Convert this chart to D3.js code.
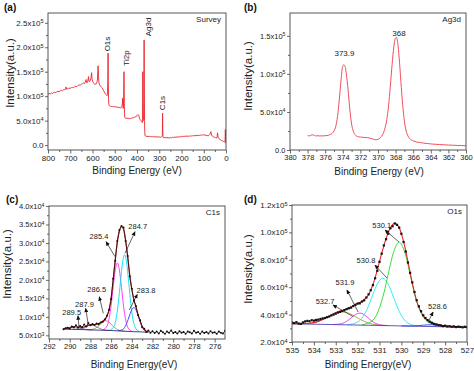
<!DOCTYPE html>
<html><head><meta charset="utf-8">
<script src="https://cdn.jsdelivr.net/npm/d3@7"></script>
<style>body{margin:0;background:#fff}svg{display:block}text{font-family:Arial,"Liberation Sans",sans-serif}</style>
</head><body><script>
// ---------------- DATA ----------------
// (a) survey spectrum: [binding energy eV, intensity]
const surveyData = [[800,104000],[795,105500],[790,104500],[785,106500],[780,105500],[775,107500],[770,108000],[765,107000],[760,109500],[755,110000],[750,109000],[745,111000],[740,112000],[735,111000],[730,113000],[725,113500],[721,114000],[719,119000],[717,114500],[712,115000],[706,116500],[700,116000],[695,117500],[690,118000],[685,117000],[680,119500],[675,120500],[670,119500],[665,122000],[660,123000],[655,122500],[650,124500],[645,125500],[640,127000],[636,126000],[632,129000],[629,134000],[627,128000],[624,127500],[621,131000],[618,140000],[616,131000],[613,129500],[610,133000],[607,137000],[604,148000],[602,135000],[599,130000],[596,128000],[593,126000],[590,124000],[587,124500],[584,125000],[581,127000],[578,133000],[575,162000],[573,140000],[571,127000],[568,123000],[565,121000],[562,120000],[559,118000],[556,117000],[553,114000],[550,111000],[547,109000],[544,106000],[541,104000],[538,102500],[535,101000],[533,104000],[531.5,125000],[530.5,170000],[530,188000],[529,130000],[528,96000],[527,85000],[525,81000],[522,80000],[519,79500],[515,79000],[510,78500],[505,79000],[500,78000],[495,78500],[490,77500],[485,77000],[480,77500],[476,76000],[473,76500],[470,77000],[468,79000],[466,84000],[465,93000],[464,96000],[463,80000],[462,75000],[461,78000],[460,96000],[459,130000],[458.5,150000],[458,128000],[457,85000],[456,64000],[455,57000],[453,55500],[450,55000],[445,54500],[440,55000],[435,54000],[430,54500],[425,55000],[420,55500],[415,56000],[410,57000],[405,58500],[400,60000],[397,62000],[395,62500],[392,60500],[389,55000],[386,52000],[383,50500],[380,48500],[378,47000],[376,46000],[375,55000],[374.5,100000],[374,150000],[373.5,120000],[373,70000],[372,52000],[371,50000],[370,52000],[369,90000],[368.5,170000],[368,215000],[367.5,180000],[367,110000],[366,50000],[365,26000],[364,20000],[362,18500],[360,18000],[355,18000],[350,17500],[345,18000],[340,17000],[335,17500],[330,17000],[325,17500],[320,16500],[315,17000],[310,16500],[305,17000],[300,16500],[295,16000],[290,16500],[287,18000],[286,22000],[285,65000],[284,28000],[283,18000],[282,16000],[280,15000],[275,15500],[270,15000],[265,15500],[260,15000],[255,14500],[250,15500],[245,15000],[240,16000],[235,15500],[230,16500],[225,16000],[220,16500],[215,17000],[210,16500],[205,17500],[200,17000],[195,18000],[190,17500],[185,18000],[180,18500],[175,18000],[170,18500],[165,18000],[160,19000],[155,18500],[150,19000],[145,19500],[140,19000],[135,19500],[130,20000],[125,19500],[120,20000],[115,20500],[110,20000],[105,21000],[100,21000],[95,20500],[90,20000],[85,19500],[80,19000],[76,20000],[72,22000],[70,25000],[68,27500],[66,24000],[64,20000],[62,18500],[60,18000],[57,17000],[54,16500],[51,16000],[48,15500],[45,15000],[42,14500],[40,17000],[38,25000],[36,18000],[34,15000],[31,13000],[28,12000],[25,11000],[22,10000],[19,9500],[16,8500],[13,8000],[10,7000],[8,6500],[6,6000],[5,7000],[4,12000],[3,32000],[2,18000],[1,6000],[0.3,3500]];
const surveyXTicks = [800,700,600,500,400,300,200,100,0];
const surveyYTicks = [0,50000,100000,150000,200000,250000];
const surveyYLabels = ["0.0","5.0x10^4","1.0x10^5","1.5x10^5","2.0x10^5","2.5x10^5"];
const surveyPeakNames = ["O1s","Ti2p","Ag3d","C1s"];

// (b) Ag3d
const ag3dData = [[378,19000],[377.8,18500],[377.6,19500],[377.4,20000],[377.2,19000],[377,18500],[376.8,18800],[376.6,18300],[376.4,18700],[376.2,18500],[376,18800],[375.8,19000],[375.6,19500],[375.4,20500],[375.2,22000],[375,25000],[374.8,31000],[374.6,44000],[374.4,66000],[374.2,92000],[374.05,108000],[373.9,112000],[373.75,110000],[373.6,100000],[373.4,79000],[373.2,53000],[373,34000],[372.8,24500],[372.6,20000],[372.4,18000],[372.2,17300],[372,17000],[371.8,16700],[371.5,16500],[371.2,16200],[371,15800],[370.8,15200],[370.6,14500],[370.4,13800],[370.2,13500],[370,14000],[369.8,15500],[369.6,18000],[369.4,22000],[369.2,29000],[369,40000],[368.8,58000],[368.6,84000],[368.4,112000],[368.2,136000],[368.05,146000],[367.9,148000],[367.75,140000],[367.6,122000],[367.4,90000],[367.2,60000],[367,38000],[366.8,25000],[366.6,18500],[366.4,15000],[366.2,13000],[366,12000],[365.6,10500],[365.2,9800],[364.8,9000],[364.4,8500],[364,8000],[363.5,7500],[363,7200],[362.5,6800],[362,6500],[361.5,6300],[361,6000],[360.5,5800],[360,5600]];
const ag3dXTicks = [380,378,376,374,372,370,368,366,364,362,360];
const ag3dYTicks = [0,50000,100000,150000];
const ag3dYLabels = ["0.0","5.0x10^4","1.0x10^5","1.5x10^5"];
const ag3dPeakNames = ["373.9","368"];

// (c) C1s
const c1sData = [[290.6,6650],[290.4,6900],[290.2,7050],[290,6800],[289.8,7400],[289.6,7150],[289.4,7700],[289.2,7050],[289,7500],[288.8,7200],[288.6,7900],[288.4,7350],[288.2,8300],[288,7700],[287.8,8050],[287.6,7800],[287.4,8200],[287.2,8000],[287,8500],[286.8,8700],[286.6,9300],[286.4,10300],[286.2,11900],[286,14800],[285.8,20300],[285.6,25200],[285.4,30500],[285.2,33500],[285,34600],[284.8,34200],[284.6,30500],[284.4,26500],[284.2,21000],[284,17600],[283.8,14400],[283.6,12900],[283.4,10400],[283.2,9100],[283,7200],[282.8,6800],[282.6,5900],[282.4,6300],[282.2,5700],[282,6100],[281.8,5600],[281.6,6000],[281.4,5500],[281.2,6200],[281,5800],[280.8,5400],[280.6,6000],[280.4,5700],[280.2,6300],[280,5600],[279.8,5900],[279.6,5500],[279.4,6100],[279.2,5700],[279,5900],[278.8,5400],[278.6,6000],[278.4,5800],[278.2,5500],[278,6200],[277.8,5700],[277.6,5900],[277.4,5400],[277.2,6000],[277,5600],[276.8,5900],[276.6,5500],[276.4,6100],[276.2,5700],[276,5800],[275.8,5400],[275.6,6000],[275.4,5700],[275.2,5500],[275,6200]];
const c1sEnvelope = [[290.6,6770],[290.2,6940],[289.8,7220],[289.5,7320],[289.2,7250],[288.8,7160],[288.4,7450],[288,7830],[287.6,7920],[287.2,8150],[286.8,8870],[286.5,9640],[286.2,11740],[286,15000],[285.8,19970],[285.6,25600],[285.4,30310],[285.2,33230],[285,34390],[284.8,33730],[284.6,30870],[284.4,26180],[284.2,21230],[284,17330],[283.8,14690],[283.6,12620],[283.4,10640],[283.2,8810],[283,7410],[282.8,6540],[282.6,6110],[282.4,5920]];
const c1sBackground = [[290.6,6700],[288,6470],[286,6300],[285,6150],[284,6000],[283,5910],[282.4,5850]];
const c1sPeak2895 = [[290.6,6770],[290.3,6880],[290,7080],[289.8,7220],[289.5,7300],[289.2,7170],[289,6990],[288.7,6740],[288.5,6620],[287.8,6460]];
const c1sPeak2879 = [[289.7,6630],[289.2,6660],[288.9,6800],[288.7,6990],[288.4,7370],[288.2,7610],[287.9,7770],[287.6,7560],[287.4,7280],[287.1,6850],[286.9,6630],[286.6,6430],[286.1,6320]];
const c1sPeak2865 = [[288.3,6510],[287.8,6620],[287.5,6930],[287.3,7320],[287,8110],[286.8,8610],[286.5,8940],[286.2,8560],[286,8020],[285.7,7170],[285.5,6730],[285.2,6340],[284.7,6120]];
const c1sPeak2854 = [[286.8,6450],[286.4,7490],[286.2,9450],[286,13090],[285.8,18080],[285.6,22710],[285.4,24610],[285.2,22650],[285,17960],[284.8,12910],[284.6,9220],[284.4,7210],[284,6080]];
const c1sPeak2847 = [[286.1,6400],[285.7,7550],[285.5,9740],[285.3,13830],[285.1,19450],[284.9,24660],[284.7,26800],[284.5,24600],[284.3,19330],[284.1,13650],[283.9,9510],[283.7,7270],[283.3,6030]];
const c1sPeak2838 = [[285.3,6230],[284.9,6540],[284.7,7120],[284.5,8190],[284.2,10540],[284,11930],[283.8,12480],[283.6,11890],[283.4,10450],[283.1,8030],[282.9,6910],[282.7,6280],[282.4,5920]];
const c1sXTicks = [292,290,288,286,284,282,280,278,276];
const c1sYTicks = [5000,10000,15000,20000,25000,30000,35000,40000];
const c1sYLabels = ["5.0x10^3","1.0x10^4","1.5x10^4","2.0x10^4","2.5x10^4","3.0x10^4","3.5x10^4","4.0x10^4"];
const c1sPeakNames = ["289.5","287.9","286.5","285.4","284.7","283.8"];

// (d) O1s
const o1sData = [[535,34200],[534.9,33800],[534.8,34500],[534.7,33500],[534.6,33200],[534.5,34300],[534.4,35000],[534.3,35400],[534.2,35200],[534.1,35900],[534,35600],[533.9,36100],[533.8,36300],[533.7,36800],[533.6,37200],[533.5,37500],[533.4,38100],[533.3,38600],[533.2,39400],[533.1,40000],[533,40700],[532.9,41500],[532.8,42000],[532.7,42600],[532.6,43300],[532.5,44000],[532.4,44600],[532.3,45100],[532.2,46200],[532.1,47100],[532,48000],[531.9,48200],[531.8,49500],[531.7,50400],[531.6,52500],[531.5,54800],[531.4,57800],[531.3,61500],[531.2,66500],[531.1,72000],[531,78500],[530.9,84500],[530.8,90500],[530.7,95000],[530.6,99000],[530.5,103000],[530.4,104500],[530.3,106500],[530.2,105500],[530.1,103500],[530,99000],[529.9,93000],[529.8,86000],[529.7,78000],[529.6,70500],[529.5,63500],[529.4,56500],[529.3,50500],[529.2,46000],[529.1,42500],[529,39500],[528.9,37500],[528.8,36000],[528.7,34800],[528.6,34000],[528.5,33200],[528.4,32800],[528.3,32400],[528.2,32100],[528.1,31600],[528,31900],[527.9,31300],[527.8,31500],[527.7,31100],[527.6,31400],[527.5,30900],[527.4,31200],[527.3,31000],[527.2,30700],[527.1,31100],[527,30800]];
const o1sEnvelope = [[535,33310],[534.6,33290],[534.2,33640],[533.8,35060],[533.4,38000],[533,41320],[532.7,43090],[532.4,44950],[532.1,47500],[531.8,49750],[531.5,54550],[531.3,61940],[531.1,72640],[530.9,84620],[530.7,95500],[530.5,103410],[530.3,106600],[530.1,103400],[529.9,93410],[529.7,78680],[529.5,62980],[529.3,49890],[529.1,41960],[528.9,37310],[528.6,34100],[528.3,32720],[528,31790],[527.5,31050],[527,30810]];
const o1sBackground = [[535,33300],[531,32050],[527,30800]];
const o1sPeak5327 = [[534.8,33280],[534.2,33640],[533.9,34570],[533.6,36370],[533.3,38870],[533,41180],[532.7,42080],[532.4,40990],[532.1,38490],[531.8,35810],[531.5,33820],[531.2,32710],[530.6,31970]];
const o1sPeak5319 = [[533.15,32760],[532.8,33160],[532.6,34200],[532.45,35630],[532.25,38220],[532.1,40070],[531.9,41130],[531.7,39940],[531.55,38000],[531.35,35280],[531.2,33760],[531,32600],[530.65,31980]];
const o1sPeak5308 = [[532.45,32670],[532,34520],[531.75,38600],[531.55,44570],[531.3,54710],[531.1,62340],[530.85,66500],[530.6,62180],[530.4,54430],[530.15,44140],[529.95,38040],[529.7,33800],[529.25,31670]];
const o1sPeak5301 = [[531.8,32530],[531.3,35960],[531.05,42800],[530.8,55720],[530.6,69620],[530.35,85950],[530.1,92770],[529.85,85800],[529.6,69310],[529.4,55280],[529.15,42970],[528.9,36270],[528.4,31970],[528,31300]];
const o1sPeak5286 = [[530,31740],[529.6,31690],[529.4,31770],[529.2,31970],[529,32260],[528.8,32530],[528.6,32600],[528.4,32400],[528.2,32010],[528,31590],[527.8,31270],[527.6,31070],[527.2,30870]];
const o1sXTicks = [535,534,533,532,531,530,529,528,527];
const o1sYTicks = [20000,40000,60000,80000,100000,120000];
const o1sYLabels = ["2.0x10^4","4.0x10^4","6.0x10^4","8.0x10^4","1.0x10^5","1.2x10^5"];
const o1sPeakNames = ["532.7","531.9","530.8","530.1","528.6"];

// ---------------- DRAWING ----------------
const svg = d3.select("body").append("svg").attr("width",474).attr("height",371);
svg.append("rect").attr("width",474).attr("height",371).attr("fill","#fff");
const defs = svg.append("defs");
defs.append("marker").attr("id","arr").attr("viewBox","0 0 10 10").attr("refX",9).attr("refY",5)
  .attr("markerWidth",4.5).attr("markerHeight",4.5).attr("markerUnits","userSpaceOnUse").attr("orient","auto")
  .append("path").attr("d","M0,0.5 L10,5 L0,9.5 Z").attr("fill","#111");

function panel(o){
  const x = d3.scaleLinear().domain(o.xd).range([o.l,o.r]);
  const y = d3.scaleLinear().domain(o.yd).range([o.b,o.t]);
  const g = svg.append("g");
  defs.append("clipPath").attr("id","cp"+o.id).append("rect")
    .attr("x",o.l).attr("y",o.t).attr("width",o.r-o.l).attr("height",o.b-o.t);
  const plot = g.append("g").attr("clip-path",`url(#cp${o.id})`);
  const fs = o.fs;
  // x axis
  const xa = g.append("g").attr("transform",`translate(0,${o.b})`);
  xa.append("g").call(d3.axisBottom(x).tickValues(o.xMinor).tickSize(2).tickFormat(""));
  xa.append("g").call(d3.axisBottom(x).tickValues(o.xt).tickSize(3.5).tickPadding(1.5).tickFormat(d=>d));
  // y axis
  const ya = g.append("g").attr("transform",`translate(${o.l},0)`);
  ya.append("g").call(d3.axisLeft(y).tickValues(o.yMinor).tickSize(2).tickFormat(""));
  const yl = ya.append("g").call(d3.axisLeft(y).tickValues(o.yt).tickSize(3).tickPadding(1.5));
  yl.selectAll(".tick text").each(function(d,i){
    const parts = o.yl[i].split("^");
    const t = d3.select(this).text(null);
    t.append("tspan").text(parts[0]);
    if(parts[1]) t.append("tspan").attr("dy","-0.45em").attr("font-size",fs*0.7).text(parts[1]);
  });
  g.selectAll(".domain").remove();
  g.selectAll(".tick line").attr("stroke","#444").attr("stroke-width",0.8);
  g.selectAll(".tick text").attr("font-size",fs).attr("fill","#222").attr("font-family","Arial, Liberation Sans, sans-serif");
  // titles
  g.append("text").attr("x",o.xtx).attr("y",o.xty).attr("text-anchor","middle").attr("font-size",10)
    .attr("fill","#222").text(o.xTitle);
  g.append("text").attr("transform",`translate(${o.ytx},${o.yty}) rotate(-90)`).attr("text-anchor","middle")
    .attr("dy","0.35em").attr("font-size",11.5).attr("fill","#222").text("Intensity(a.u.)");
  g.append("text").attr("x",o.r-5).attr("y",o.t+6).attr("dy","0.35em").attr("text-anchor","end")
    .attr("font-size",8).attr("fill","#222").text(o.corner);
  g.append("text").attr("x",o.lx).attr("y",o.ly).attr("font-size",10).attr("font-weight","bold")
    .attr("font-family","Liberation Serif, Times New Roman, serif").attr("fill","#111").text(o.letter);
  const p = {g, plot, x, y, o};
  p.frame = () => g.append("rect").attr("x",o.l).attr("y",o.t).attr("width",o.r-o.l).attr("height",o.b-o.t)
     .attr("fill","none").attr("stroke","#444").attr("stroke-width",0.9);
  return p;
}
function line(p, data, color, w, curve){
  p.plot.append("path").datum(data).attr("fill","none").attr("stroke",color).attr("stroke-width",w)
    .attr("stroke-linejoin","round")
    .attr("d", d3.line().x(d=>p.x(d[0])).y(d=>p.y(d[1])).curve(curve||d3.curveLinear));
}
function annot(p, text, lab, head, tail, fs){
  p.g.append("text").attr("x",p.x(lab[0])).attr("y",p.y(lab[1])).attr("dy","0.35em").attr("text-anchor","middle")
    .attr("font-size",fs).attr("fill","#222").text(text);
  if(head) p.g.append("line").attr("x1",p.x(tail[0])).attr("y1",p.y(tail[1])).attr("x2",p.x(head[0])).attr("y2",p.y(head[1]))
    .attr("stroke","#222").attr("stroke-width",0.7).attr("marker-end","url(#arr)");
}
const mid = a => a.slice(0,-1).map((v,i)=>(v+a[i+1])/2);

// (a)
const pa = panel({id:"a",l:48,r:226,t:13,b:150,xd:[800,0],yd:[-10000,270000],
  xt:surveyXTicks,xMinor:mid(surveyXTicks),yt:surveyYTicks,yMinor:mid(surveyYTicks),yl:surveyYLabels,fs:8,
  xTitle:"Binding Energy (eV)",xtx:137,xty:174,ytx:10,yty:73,corner:"Survey",letter:"(a)",lx:4,ly:11});
line(pa, surveyData, "#e8262e", 0.9);
[[533,206600],[447.5,178000],[348,241400],[289,86000]].forEach((pos,i)=>{
  pa.g.append("text").attr("transform",`translate(${pa.x(pos[0])},${pa.y(pos[1])}) rotate(-90)`)
    .attr("text-anchor","middle").attr("dy","0.35em").attr("font-size",8).attr("fill","#222").text(surveyPeakNames[i]);
});
pa.frame();

// (b)
const pb = panel({id:"b",l:290,r:466,t:13,b:150,xd:[380,360],yd:[0,180000],
  xt:ag3dXTicks,xMinor:mid(ag3dXTicks),yt:ag3dYTicks,yMinor:mid(ag3dYTicks),yl:ag3dYLabels,fs:7.5,
  xTitle:"Binding Energy (eV)",xtx:379,xty:175,ytx:248,yty:76,corner:"Ag3d",letter:"(b)",lx:244,ly:11});
line(pb, ag3dData, "#f0505c", 1, d3.curveMonotoneX);
annot(pb, ag3dPeakNames[0], [373.81,127000], null, null, 8);
annot(pb, ag3dPeakNames[1], [367.61,154000], null, null, 8);
pb.frame();

// (c)
const pc = panel({id:"c",l:49,r:225,t:206,b:339,xd:[292,275],yd:[4000,40000],
  xt:c1sXTicks,xMinor:mid(c1sXTicks),yt:c1sYTicks,yMinor:mid(c1sYTicks),yl:c1sYLabels,fs:7.5,
  xTitle:"Binding Energy(eV)",xtx:134,xty:368,ytx:7,yty:264,corner:"C1s",letter:"(c)",lx:6,ly:203});
const mc = d3.curveMonotoneX;
line(pc, c1sPeak2895, "#9040b0", 0.9, mc);
line(pc, c1sPeak2879, "#7a7a7a", 0.9, mc);
line(pc, c1sPeak2865, "#b09040", 0.9, mc);
line(pc, c1sPeak2854, "#ff2bff", 0.9, mc);
line(pc, c1sPeak2847, "#00e0ee", 0.9, mc);
line(pc, c1sPeak2838, "#2040ff", 0.9, mc);
line(pc, c1sBackground, "#2b2b7a", 0.9, mc);
line(pc, c1sEnvelope, "#e8242a", 1.2, mc);
line(pc, c1sData, "#111", 0.8);
pc.plot.selectAll("circle.dc").data(c1sData).join("circle").attr("class","dc")
  .attr("cx",d=>pc.x(d[0])).attr("cy",d=>pc.y(d[1])).attr("r",1).attr("fill","#111");
const cAnn = [
  [[289.81,11230],[289.2,10300],[289.1,7100]],
  [[288.57,13475],[288.46,12310],[288.2,7790]],
  [[287.39,17535],[287.14,15450],[286.76,10957]],
  [[287.17,31692],[286.49,30339],[285.62,26279]],
  [[283.43,34400],[283.69,33046],[284.66,27199]],
  [[282.63,17264],[283.47,16100],[284.24,11850]]];
cAnn.forEach((a,i)=>annot(pc, c1sPeakNames[i], a[0], a[1], a[2], 7.5));
pc.frame();

// (d)
const pd = panel({id:"d",l:292,r:467,t:205,b:342,xd:[535,527],yd:[20000,120000],
  xt:o1sXTicks,xMinor:mid(o1sXTicks),yt:o1sYTicks,yMinor:mid(o1sYTicks),yl:o1sYLabels,fs:8,
  xTitle:"Binding Energy(eV)",xtx:368,xty:368,ytx:248,yty:269,corner:"O1s",letter:"(d)",lx:244,ly:203});
line(pd, o1sPeak5327, "#a0a838", 0.9, mc);
line(pd, o1sPeak5319, "#ee33ee", 0.9, mc);
line(pd, o1sPeak5308, "#20e8f0", 0.9, mc);
line(pd, o1sPeak5301, "#22dd22", 0.9, mc);
line(pd, o1sPeak5286, "#2040ff", 0.9, mc);
line(pd, o1sBackground, "#5040c0", 0.9, mc);
line(pd, o1sEnvelope, "#e8242a", 1.1, mc);
pd.plot.selectAll("rect.dd").data(o1sData).join("rect").attr("class","dd")
  .attr("x",d=>pd.x(d[0])-1.1).attr("y",d=>pd.y(d[1])-1.1).attr("width",2.2).attr("height",2.2).attr("fill","#111");
const dAnn = [
  [[533.49,49900],[533.13,47000],[532.2,38470]],
  [[532.58,63600],[532.49,58000],[531.98,41900]],
  [[531.62,79900],[531.21,76200],[530.66,66700]],
  [[530.90,105400],[530.75,101800],[530.11,93000]],
  [[528.35,45800],[528.55,41900],[528.78,34600]]];
dAnn.forEach((a,i)=>annot(pd, o1sPeakNames[i], a[0], a[1], a[2], 7.5));
pd.frame();
</script></body></html>
